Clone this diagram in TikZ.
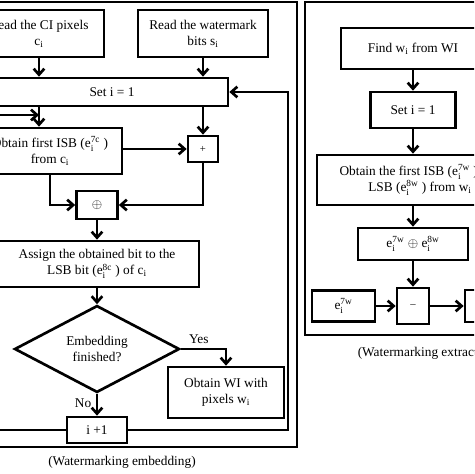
\documentclass[tikz,border=0pt]{standalone}
\usepackage{fontspec}
\setmainfont{Liberation Serif}
\usetikzlibrary{shapes,arrows.meta}
\tikzstyle{block}=[rectangle,draw,line width=2pt,align=center,inner sep=1pt,font=\fontsize{10}{12}\selectfont]
\tikzstyle{decision}=[diamond,draw,line width=2pt,align=center,inner sep=0pt,font=\fontsize{10}{12}\selectfont]
\tikzstyle{op}=[rectangle,draw,line width=2pt,inner sep=0pt,font=\footnotesize]
\tikzstyle{frame}=[draw,line width=2pt]
\tikzstyle{caption}=[font=\fontsize{10}{12}\selectfont]
\newcommand{\ebit}[1]{$\mathrm{e}_\mathrm{i}^{\mathrm{#1}}$}

\begin{document}
\begin{tikzpicture}[x=0.75pt,y=-0.75pt,line width=2pt,>={Straight Barb[length=4.5pt,width=8pt]}]
  \useasboundingbox (0,0) rectangle (474,474);
  \clip (0,0) rectangle (474,474);

  % embedding
  \draw[frame] (-10,2) rectangle (297,447);
  \node[block,minimum width=97.5pt,minimum height=35.25pt] (readci) at (39,33.5) {Read the CI pixels\\c\textsubscript{i}};
  \node[block,minimum width=97.5pt,minimum height=35.25pt] (readwm) at (203,33.5) {Read the watermark\\bits s\textsubscript{i}};
  \node[block,minimum width=174pt,minimum height=21pt] (seti) at (112,92) {Set i = 1};
  \node[block,minimum width=108pt,minimum height=34.5pt] (isb) at (50,151) {Obtain first ISB (\ebit{7c} )\\from c\textsubscript{i}};
  \node[op,minimum width=22.5pt,minimum height=19.5pt] (plus) at (203,149) {+};
  \node[op,minimum width=30.75pt,minimum height=21pt,font=\normalsize] (xor) at (97,205) {$\oplus$};
  \node[block,minimum width=153pt,minimum height=34.5pt] (assign) at (97,264) {Assign the obtained bit to the\\LSB bit (\ebit{8c} ) of c\textsubscript{i}};
  \node[decision,minimum width=123.75pt,minimum height=58.5pt] (dec) at (97,349) {Embedding\\finished?};
  \node[block,minimum width=87pt,minimum height=38.25pt] (obtainwi) at (226,392.5) {Obtain WI with\\pixels w\textsubscript{i}};
  \node[block,minimum width=45pt,minimum height=19.5pt] (inc) at (97,430) {i +1};
  \node[caption] (capl) at (122,462) {(Watermarking embedding)};
  \coordinate (merge) at (39,115);
  \coordinate (lb) at (-12,115);
  \coordinate (rb) at (288,430);

  \draw[->] (readci.south) -- (readci.south |- seti.north);
  \draw[->] (readwm.south) -- (readwm.south |- seti.north);
  \draw[->] (seti.south -| readci.south) -- (isb.north -| readci.south);
  \draw[->] (inc.west) -| (lb) -- (merge);
  \draw[->] (seti.south -| plus.north) -- (plus.north);
  \draw[->] (isb.east |- plus.west) -- (plus.west);
  \draw[->] (plus.south) |- (xor.east);
  \draw[->] (isb.south) |- (xor.west);
  \draw[->] (xor.south) -- (assign.north);
  \draw[->] (assign.south) -- (dec.north);
  \draw[->] (dec.east) -| (obtainwi.north) node[pos=0.2,above,caption] {Yes};
  \draw[->] (dec.south) -- (inc.north) node[pos=0.45,left,caption] {No};
  \draw[->] (inc.east) -- (rb) |- (seti.east);

  % extraction
  \draw[frame] (305,2) rectangle (490,335);
  \node[block,minimum width=108pt,minimum height=30.75pt] (findw) at (413,48.5) {Find w\textsubscript{i} from WI};
  \node[block,minimum width=63.75pt,minimum height=27pt] (setr) at (413,110) {Set i = 1}
    edge [<-] (findw);
  \node[block,minimum width=154.5pt,minimum height=37.5pt] (isbr) at (420,180) {Obtain the first ISB (\ebit{7w} ) and\\LSB (\ebit{8w} ) from w\textsubscript{i}};
  \node[block,minimum width=82.5pt,minimum height=24pt] (xorr) at (413,244) {\ebit{7w} $\oplus$ \ebit{8w}};
  \node[op,minimum width=24pt,minimum height=27pt] (minus) at (413,306) {--};
  \node[block,minimum width=47.25pt,minimum height=23.25pt] (e7w) at (343.5,306) {\ebit{7w}};
  \node[block,minimum width=45pt,minimum height=24pt] (outr) at (495,306) {};
  \node[caption,anchor=west] (capr) at (352,353) {(Watermarking extraction)};

  \draw[->] (setr.south) -- (setr.south |- isbr.north);
  \draw[->] (isbr.south -| xorr.north) -- (xorr.north);
  \draw[->] (xorr.south) -- (minus.north);
  \draw[->] (e7w.east) -- (minus.west);
  \draw[->] (minus.east) -- (outr.west);
\end{tikzpicture}
\end{document}
